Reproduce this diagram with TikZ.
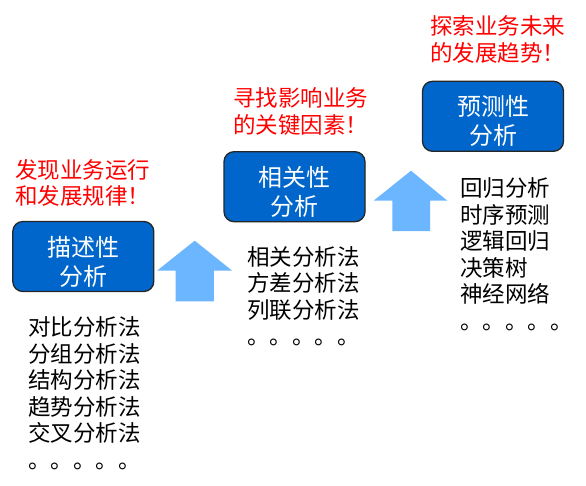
\documentclass[tikz,border=0pt]{standalone}
\usepackage{fontspec}
\newfontfamily\cjk{Noto Sans CJK SC}
\definecolor{boxblue}{RGB}{0,102,204}
\definecolor{liftblue}{RGB}{108,182,255}

\begin{document}
\begin{tikzpicture}[x=1pt,y=-1pt,
  stagebox/.style={draw=black!85, line width=1.3pt, fill=boxblue,
    rounded corners=10pt, minimum width=141pt, minimum height=70pt},
  stagetext/.style={text=white, align=center,
    font=\cjk\fontsize{24}{29}\selectfont},
  goaltext/.style={text=red, align=left, inner sep=0pt, anchor=north west,
    font=\cjk\fontsize{22.5}{26.5}\selectfont},
  methodlist/.style={align=left, inner sep=0pt, anchor=north west,
    font=\cjk\fontsize{22.5}{26.5}\selectfont},
  liftarrow/.style={fill=liftblue}]
  \useasboundingbox (0,0) rectangle (586,485);
  % The three analysis stages, climbing from left to right.
  \node[stagebox] (describe) at (83.3,256.5) {};
  \node[stagebox] (relate) at (294.5,186.7) {};
  \node[stagebox] (predict) at (493,116.3) {};
  \node[stagetext] (describename) at ([yshift=-5pt]describe.center) {描述性\\分析};
  \node[stagetext] (relatename) at ([yshift=-5pt]relate.center) {相关性\\分析};
  \node[stagetext] (predictname) at ([yshift=-5pt]predict.center) {预测性\\分析};
  % Aim of each stage, above its box.
  \node[goaltext] (describeaim) at (15,159) {发现业务运行\\和发展规律！};
  \node[goaltext] (relateaim) at (233,87.5) {寻找影响业务\\的关键因素！};
  \node[goaltext] (predictaim) at (430,15.5) {探索业务未来\\的发展趋势！};
  % Methods of each stage, below its box.
  \node[methodlist] (describemethods) at (28,316.5)
    {对比分析法\\分组分析法\\结构分析法\\趋势分析法\\交叉分析法\\。。。。。};
  \node[methodlist] (relatemethods) at (247,246)
    {相关分析法\\方差分析法\\列联分析法\\。。。。。};
  \node[methodlist] (predictmethods) at (460,177.5)
    {回归分析\\时序预测\\逻辑回归\\决策树\\神经网络\\。。。。。};
  % Block arrows between the stages.
  \coordinate (tipone) at (194.7,240.7);
  \coordinate (tiptwo) at (411,170.7);
  \fill[liftarrow] (tipone) -- ++(37.5,30) -- ++(-18.3,0) -- ++(0,30.6)
    -- ++(-38.3,0) -- ++(0,-30.6) -- ++(-18.6,0) -- cycle;
  \fill[liftarrow] (tiptwo) -- ++(36.3,30) -- ++(-17.3,0) -- ++(0,30.3)
    -- ++(-37.7,0) -- ++(0,-30.3) -- ++(-18.7,0) -- cycle;
\end{tikzpicture}
\end{document}
